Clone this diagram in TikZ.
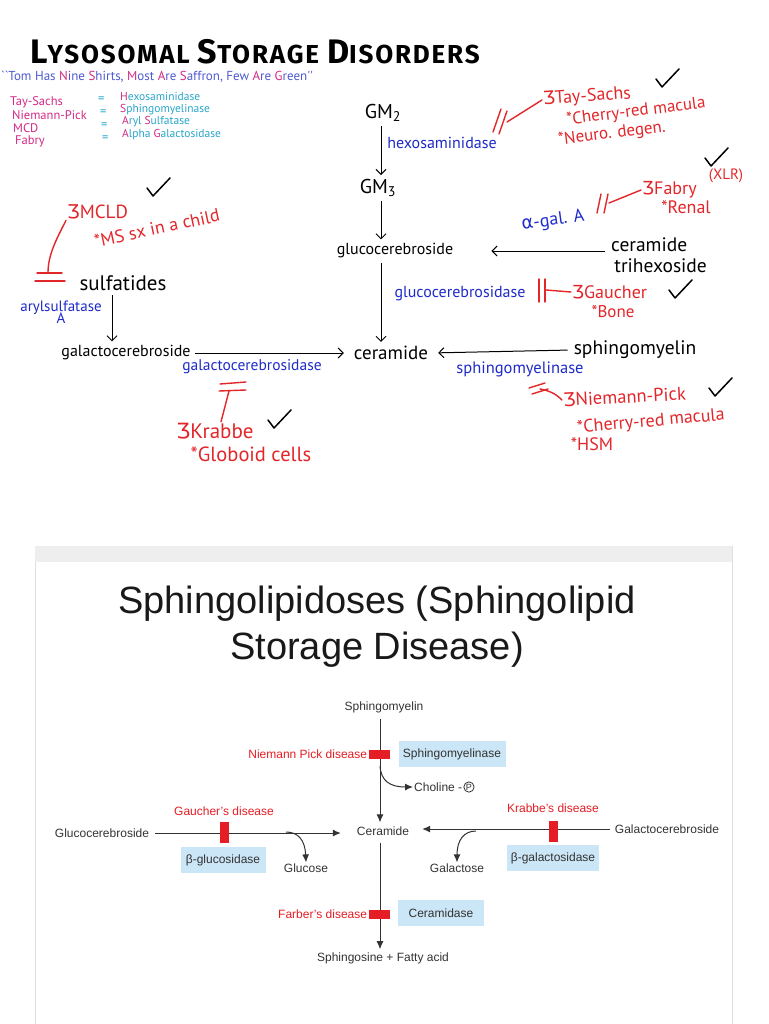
\documentclass[tikz,border=0pt]{standalone}
\usepackage{fontspec}
\setmainfont{Liberation Sans}
\newfontfamily\hand{PT Sans}
\newfontfamily\dv{DejaVu Sans}
\newfontfamily\ttl{Fira Sans}[LetterSpace=7]
\usetikzlibrary{arrows.meta}
\newcommand\hsz[1]{\hand\fontsize{#1}{#1}\selectfont}
\definecolor{hred}{HTML}{E3262A}
\definecolor{hblue}{HTML}{1F2BC9}
\definecolor{mag}{HTML}{D42A86}
\definecolor{mteal}{HTML}{27A6C9}
\definecolor{mviol}{HTML}{4E5BD0}
\definecolor{boxblue}{HTML}{CBE6F6}
\definecolor{barred}{HTML}{E51E25}
\definecolor{ink}{HTML}{333333}
\tikzset{
  blk/.style={font=\hsz{16}, text=black, inner sep=2pt},
  enz/.style={font=\hsz{16}, text=hblue, inner sep=1pt},
  dis/.style={font=\hsz{17}, text=hred, inner sep=1pt},
  lst/.style={font=\hsz{12.5}, inner sep=0pt, anchor=west},
  harr/.style={-{Straight Barb[length=5pt,width=10pt]}, line width=1pt},
  inh/.style={hred, line width=1.4pt, line cap=round},
  chk/.pic={\draw[line width=1.5pt, line cap=round, line join=round] (-11,0) -- (-5,8) -- (12,-10);},
  lab/.style={font=\fontsize{12}{14}\selectfont, text=ink, inner sep=1pt},
  dz/.style={font=\fontsize{12}{14}\selectfont, text=barred, inner sep=1pt},
  enzbox/.style={fill=boxblue, font=\fontsize{12}{14}\selectfont, text=ink, minimum height=26pt, inner xsep=4pt},
  rbar/.style={fill=barred, draw=none, inner sep=0pt},
  barr/.style={-{Latex[length=8pt,width=7pt]}, line width=1pt, ink},
}
\begin{document}
\begin{tikzpicture}[x=1pt,y=-1pt]
\useasboundingbox (0,0) rectangle (768,1024);
\fill[white] (0,0) rectangle (768,1024);

% ---------------- top: handwritten notes ----------------
\node[anchor=west, inner sep=0pt, font=\ttl\bfseries\fontsize{26}{26}\selectfont] (maintitle) at (30,52)
  {{\fontsize{34}{34}\selectfont L}YSOSOMAL {\fontsize{34}{34}\selectfont S}TORAGE {\fontsize{34}{34}\selectfont D}ISORDERS};

\node[lst, font=\hsz{13}] (mnem) at (1,77)
  {\textcolor{mviol}{``Tom Has} \textcolor{mag}{N}\textcolor{mviol}{ine} \textcolor{mag}{S}\textcolor{mviol}{hirts,} \textcolor{mag}{M}\textcolor{mviol}{ost} \textcolor{mag}{A}\textcolor{mviol}{re} \textcolor{mag}{S}\textcolor{mviol}{affron,} \textcolor{mviol}{Few} \textcolor{mag}{A}\textcolor{mviol}{re} \textcolor{mag}{G}\textcolor{mviol}{reen''}};

\node[lst, text=mag] (l1) at (10,102) {Tay-Sachs};
\node[lst, text=mag] (l2) at (12,115) {Niemann-Pick};
\node[lst, text=mag] (l3) at (13,128) {MCD};
\node[lst, text=mag] (l4) at (15,141) {Fabry};
\node[lst, text=mteal] (e1) at (98,100) {=};
\node[lst, text=mteal] (e2) at (100,113) {=};
\node[lst, text=mteal] (e3) at (101,126) {=};
\node[lst, text=mteal] (e4) at (102,139) {=};
\node[lst, font=\hsz{11.5}] (r1) at (120,97) {\textcolor{mag}{H}\textcolor{mteal}{exosaminidase}};
\node[lst, font=\hsz{11.5}] (r2) at (120,109.5) {\textcolor{mag}{S}\textcolor{mteal}{phingomyelinase}};
\node[lst, font=\hsz{11.5}] (r3) at (122,122) {\textcolor{mag}{A}\textcolor{mteal}{ryl} \textcolor{mag}{S}\textcolor{mteal}{ulfatase}};
\node[lst, font=\hsz{11.5}] (r4) at (122,134.5) {\textcolor{mag}{A}\textcolor{mteal}{lpha} \textcolor{mag}{G}\textcolor{mteal}{alactosidase}};

% pathway
\coordinate (ax) at (381,0);
\coordinate (ax2) at (112,0);
\node[blk, font=\hsz{20}] (gm2) at (383,113) {GM\textsubscript{2}};
\node[blk, font=\hsz{20}] (gm3) at (378,188) {GM\textsubscript{3}};
\node[blk] (glc) at (395,251) {glucocerebroside};
\node[blk, font=\hsz{19}] (cer) at (391,353) {ceramide};
\node[blk] (gal) at (126,353) {galactocerebroside};
\node[blk, font=\hsz{21}] (sul) at (123,283) {sulfatides};
\node[blk, font=\hsz{19.5}] (sph) at (635,350) {sphingomyelin};
\node[blk, font=\hsz{19.5}, align=left] (cth) at (659,255) {ceramide\\[1pt]\,trihexoside};

\draw[harr, shorten <=2pt, shorten >=2pt] (gm2.south -| ax) -- (gm3.north -| ax);
\draw[harr, shorten <=2pt, shorten >=2pt] (gm3.south -| ax) -- (glc.north -| ax);
\draw[harr, shorten <=2pt, shorten >=2pt] (glc.south -| ax) -- (cer.north -| ax);
\draw[harr, shorten <=2pt, shorten >=2pt] (sul.south -| ax2) -- (gal.north -| ax2);
\draw[harr, shorten <=2pt, shorten >=8pt] (gal.east) -- (cer.west);
\draw[harr, shorten <=4pt, shorten >=8pt] (sph.west) -- (cer.east);
\draw[harr, shorten <=4pt, shorten >=36pt] (cth.west |- glc.east) -- (glc.east);

% enzymes
\node[enz] (hexo) at (442,143) {hexosaminidase};
\node[enz] (glcase) at (460,294) {glucocerebrosidase};
\node[enz, font=\hsz{15.5}] (galase) at (252,367) {galactocerebrosidase};
\node[enz, font=\hsz{16.5}] (sphase) at (520,369) {sphingomyelinase};
\node[enz, font=\hsz{15}, align=center] (aryl) at (61,312) {arylsulfatase\\[-3pt]A};
\node[enz, rotate=8, font=\hsz{18}] (agal) at (553,221) {{\dv α}-gal. A};

% Tay-Sachs
\coordinate (tsI) at (507,122);
\draw[inh] (493,132) -- (501,109);
\draw[inh] (499,134) -- (507,111);
\node[dis, font=\hsz{18}, rotate=4, anchor=west] (ts) at (542,100) {{\dv Ʒ}Tay-Sachs};
\draw[inh] (tsI) -- (ts.west);
\node[dis, rotate=7] (ts1) at (636,112) {*Cherry-red macula};
\node[dis, rotate=7] (ts2) at (612,134) {*Neuro. degen.};
\pic at (667,79) {chk};

% Fabry
\coordinate (fbI) at (609,203);
\draw[inh] (597,213) -- (601,194);
\draw[inh] (604,213) -- (608,194);
\node[dis, font=\hsz{18}, anchor=west] (fb) at (641,190) {{\dv Ʒ}Fabry};
\node[dis, font=\hsz{15}] (xlr) at (726,176) {(XLR)};
\node[dis, font=\hsz{18}] (fb1) at (686,207) {*Renal};
\draw[inh] (fbI) -- (fb.west);
\pic at (716,158) {chk};

% Gaucher
\coordinate (gaI) at (546,290);
\draw[inh] (539,279) -- (539,302);
\draw[inh] (545,279) -- (545,302);
\node[dis, font=\hsz{18}, anchor=west] (gau) at (571,292) {{\dv Ʒ}Gaucher};
\node[dis] (gau1) at (613,312) {*Bone};
\draw[inh] (gaI) -- (gau.west);
\pic at (680,290) {chk};

% Niemann-Pick
\coordinate (npI) at (540,389);
\draw[inh] (529,388) -- (545,383);
\draw[inh] (532,394) -- (548,389);
\node[dis, font=\hsz{18.5}, anchor=west, rotate=3] (np) at (562,400) {{\dv Ʒ}Niemann-Pick};
\node[dis, font=\hsz{18}, rotate=5] (np1) at (651,422) {*Cherry-red macula};
\node[dis, font=\hsz{18}] (np2) at (592,444) {*HSM};
\draw[inh] (npI) .. controls (552,391) and (558,396) .. (np.west);
\pic at (720,388) {chk};

% MCLD
\coordinate (mcI) at (48,273);
\draw[inh] (37,273) -- (62,273);
\draw[inh] (35,281) -- (65,281);
\node[dis, font=\hsz{19}, anchor=west] (mc) at (66,212) {{\dv Ʒ}MCLD};
\node[dis, font=\hsz{18}, rotate=12] (mc1) at (157,228) {*MS sx in a child};
\draw[inh] (mc.south west) .. controls (56,240) and (48,255) .. (mcI);
\pic at (158,188) {chk};

% Krabbe
\coordinate (krI) at (229,391);
\draw[inh] (220,384) -- (246,382);
\draw[inh] (219,391) -- (246,390);
\node[dis, font=\hsz{21}] (kr) at (215,431) {{\dv Ʒ}Krabbe};
\node[dis, font=\hsz{20.5}] (kr1) at (251,454) {*Globoid cells};
\draw[inh] (krI) -- ([xshift=6pt]kr.north);
\pic at (279,420) {chk};

% ---------------- bottom: printed figure ----------------
\draw[fill=white, draw=gray!25] (35,546) rectangle (732,1030);
\fill[gray!13] (35,546) rectangle (732,562);

\node[font=\fontsize{38}{46}\selectfont, align=center, text=black!90] (btitle) at (377,627)
  {Sphingolipidoses (Sphingolipid\\Storage Disease)};

\coordinate (bax) at (380,0);
\node[lab] (bsm) at (384,707) {Sphingomyelin};
\node[lab] (bcer) at (383,831) {Ceramide};
\node[lab] (bglc) at (102,833) {Glucocerebroside};
\node[lab] (bgal) at (667,829) {Galactocerebroside};
\node[lab] (bsf) at (383,958) {Sphingosine + Fatty acid};
\node[lab] (glu) at (306,868) {Glucose};
\node[lab] (gala) at (457,868) {Galactose};
\node[lab, anchor=west] (chol) at (413,787) {Choline -};
\node[draw=ink, circle, line width=0.8pt, inner sep=0.6pt, font=\fontsize{9}{9}\selectfont, text=ink, anchor=west] (phos) at (chol.east) {P};

\coordinate (chs) at (380,766);
\coordinate (gls) at (286,832);
\coordinate (gas) at (476,831);

\draw[barr, shorten <=5pt, shorten >=3pt] (bsm.south -| bax) -- (bcer.north -| bax);
\draw[barr, shorten <=6pt, shorten >=2pt] (bcer.south -| bax) -- (bsf.north -| bax);
\draw[barr, shorten <=5pt, shorten >=15pt] (bglc.east) -- (bcer.west |- bglc.east);
\draw[barr, shorten <=4pt, shorten >=12pt] (bgal.west) -- (bcer.east |- bgal.west);
\draw[barr] (chs) .. controls (381,781) and (390,787) .. (chol.west);
\draw[barr] (gls) .. controls (298,832) and (305,840) .. (glu.north);
\draw[barr] (gas) .. controls (464,831) and (457,840) .. (gala.north);

\node[rbar, minimum width=21pt, minimum height=9pt] (nbar) at (379,754) {};
\node[rbar, minimum width=9pt, minimum height=21pt] (gbar) at (224,832) {};
\node[rbar, minimum width=9pt, minimum height=21pt] (kbar) at (553,831) {};
\node[rbar, minimum width=21pt, minimum height=9pt] (fbar) at (379,914) {};

\node[dz, anchor=east] (npd) at (nbar.west) {Niemann Pick disease};
\node[dz] (gd) at (224,811) {Gaucher's disease};
\node[dz] (kd) at (553,808) {Krabbe's disease};
\node[dz, anchor=east] (fd) at (fbar.west) {Farber's disease};

\node[enzbox, minimum width=107pt] (smase) at (452,754) {Sphingomyelinase};
\node[enzbox, minimum width=85pt] (bglcase) at (223,860) {β-glucosidase};
\node[enzbox, minimum width=86pt] (bgalase) at (553,858) {β-galactosidase};
\node[enzbox, minimum width=86pt] (cerase) at (441,913) {Ceramidase};
\end{tikzpicture}
\end{document}
